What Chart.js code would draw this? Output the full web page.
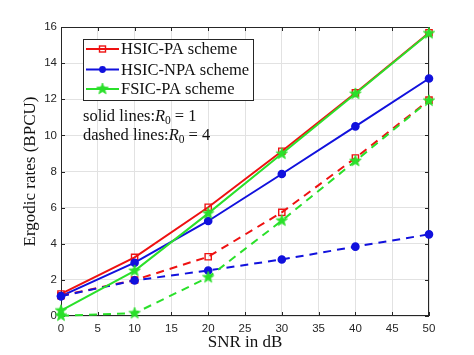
<!DOCTYPE html>
<html>
<head>
<meta charset="utf-8">
<script src="https://cdn.jsdelivr.net/npm/chart.js@4.4.1/dist/chart.umd.min.js"></script>
<style>
html,body{margin:0;padding:0;background:#fff;}
canvas{display:block;}
</style>
</head>
<body>
<canvas id="c" width="474" height="355"></canvas>
<script>
// ---- data ----
const snr = [0, 10, 20, 30, 40, 50];
const hsicPA_R1  = [1.22, 3.25, 6.02, 9.12, 12.35, 15.68];
const hsicNPA_R1 = [1.10, 2.95, 5.26, 7.86, 10.50, 13.15];
const fsicPA_R1  = [0.30, 2.50, 5.68, 8.98, 12.30, 15.65];
const hsicPA_R4  = [1.12, 1.99, 3.28, 5.74, 8.75, 11.95];
const hsicNPA_R4 = [1.10, 1.97, 2.52, 3.13, 3.84, 4.52];
const fsicPA_R4  = [0.02, 0.15, 2.14, 5.28, 8.58, 11.92];
const xTicks = [0, 5, 10, 15, 20, 25, 30, 35, 40, 45, 50];
const yTicks = [0, 2, 4, 6, 8, 10, 12, 14, 16];
const legendLabels = ['HSIC-PA scheme', 'HSIC-NPA scheme', 'FSIC-PA scheme'];

const RED = '#ee1111', BLUE = '#1111dd', GREEN = '#2ae02a', AX = '#262626', GRID = '#e2e2e2';

function starCanvas(r, color) {
  const s = Math.ceil(r * 2 + 4);
  const cv = document.createElement('canvas');
  cv.width = s; cv.height = s;
  const g = cv.getContext('2d');
  g.beginPath();
  for (let i = 0; i < 10; i++) {
    const rr = i % 2 === 0 ? r : r * 0.42;
    const a = -Math.PI / 2 + i * Math.PI / 5;
    const px = s / 2 + rr * Math.cos(a), py = s / 2 + rr * Math.sin(a);
    i === 0 ? g.moveTo(px, py) : g.lineTo(px, py);
  }
  g.closePath();
  g.fillStyle = color; g.fill();
  g.lineWidth = 0.8; g.strokeStyle = color; g.stroke();
  return cv;
}
const star = starCanvas(6, GREEN);

const pts = arr => arr.map((v, i) => ({x: snr[i], y: v}));
const DASH = [8, 6];

function ds(label, data, color, style, dashed, order) {
  return {
    label, data: pts(data), borderColor: color, borderWidth: 2, order,
    borderDash: dashed ? DASH : [], pointStyle: style, clip: false,
    pointRadius: style === 'rect' ? 4.4 : 3.6,
    pointBorderColor: color, pointBorderWidth: 1.4,
    pointBackgroundColor: style === 'rect' ? 'rgba(0,0,0,0)' : color,
    tension: 0, fill: false
  };
}

const frameLegend = {
  id: 'frameLegend',
  beforeDatasetsDraw(chart) {
    const {ctx, chartArea: a, scales: {x, y}} = chart;
    ctx.save();
    ctx.strokeStyle = AX; ctx.lineWidth = 1;
    ctx.strokeRect(a.left + 0.5, a.top + 0.5, a.right - a.left - 1, a.bottom - a.top - 1);
    ctx.beginPath();
    xTicks.forEach(t => {
      const px = Math.round(x.getPixelForValue(t)) + 0.5;
      ctx.moveTo(px, a.bottom); ctx.lineTo(px, a.bottom - 4);
      ctx.moveTo(px, a.top); ctx.lineTo(px, a.top + 4);
    });
    yTicks.forEach(t => {
      const py = Math.round(y.getPixelForValue(t)) + 0.5;
      ctx.moveTo(a.left, py); ctx.lineTo(a.left + 4, py);
      ctx.moveTo(a.right, py); ctx.lineTo(a.right - 4, py);
    });
    ctx.stroke();
    ctx.restore();
  },
  afterDatasetsDraw(chart) {
    const {ctx} = chart;
    ctx.save();
    const bx = 83, by = 39, bw = 170, bh = 61;
    ctx.fillStyle = '#fff';
    ctx.fillRect(bx, by, bw, bh);
    ctx.strokeStyle = AX; ctx.lineWidth = 1;
    ctx.strokeRect(bx + 0.5, by + 0.5, bw, bh);
    const cols = [RED, BLUE, GREEN];
    const ys = [49, 69.5, 89];
    ctx.font = '16.5px "Liberation Serif", "Times New Roman", serif';
    ctx.textBaseline = 'middle';
    legendLabels.forEach((lab, i) => {
      const yy = ys[i];
      ctx.strokeStyle = cols[i]; ctx.lineWidth = 2;
      ctx.beginPath(); ctx.moveTo(86, yy); ctx.lineTo(119, yy); ctx.stroke();
      if (i === 0) {
        ctx.lineWidth = 1.4;
        ctx.strokeRect(102.5 - 3, yy - 3, 6, 6);
      } else if (i === 1) {
        ctx.fillStyle = BLUE;
        ctx.beginPath(); ctx.arc(102.5, yy, 3.4, 0, Math.PI * 2); ctx.fill();
      } else {
        ctx.drawImage(star, 102.5 - star.width / 2, yy - star.height / 2);
      }
      ctx.fillStyle = '#111';
      ctx.fillText(lab, 121, yy + 1);
    });
    function rline(prefix, val, x0, yy) {
      ctx.font = '16.5px "Liberation Serif", "Times New Roman", serif';
      ctx.fillStyle = '#111';
      ctx.fillText(prefix, x0, yy);
      let cx = x0 + ctx.measureText(prefix).width;
      ctx.font = 'italic 16.5px "Liberation Serif", "Times New Roman", serif';
      ctx.fillText('R', cx, yy);
      cx += ctx.measureText('R').width;
      ctx.font = '11.5px "Liberation Serif", "Times New Roman", serif';
      ctx.fillText('0', cx, yy + 4);
      cx += ctx.measureText('0').width + 4;
      ctx.font = '16.5px "Liberation Serif", "Times New Roman", serif';
      ctx.fillText('= ' + val, cx, yy);
    }
    rline('solid lines:', '1', 83, 117);
    rline('dashed lines:', '4', 83, 136);
    ctx.restore();
  }
};

new Chart(document.getElementById('c'), {
  type: 'line',
  data: {
    datasets: [
      ds('HSIC-PA R0=1', hsicPA_R1, RED, 'rect', false, 5),
      ds('HSIC-NPA R0=1', hsicNPA_R1, BLUE, 'circle', false, 4),
      ds('FSIC-PA R0=1', fsicPA_R1, GREEN, star, false, 0),
      ds('HSIC-PA R0=4', hsicPA_R4, RED, 'rect', true, 3),
      ds('HSIC-NPA R0=4', hsicNPA_R4, BLUE, 'circle', true, 2),
      ds('FSIC-PA R0=4', fsicPA_R4, GREEN, star, true, 1)
    ]
  },
  options: {
    responsive: false,
    animation: false,
    devicePixelRatio: 1,
    layout: {padding: {left: 10, right: 45, top: 27, bottom: 0}},
    plugins: {legend: {display: false}, tooltip: {enabled: false}},
    scales: {
      x: {
        type: 'linear', min: 0, max: 50,
        afterFit: s => { s.height = 39; },
        afterBuildTicks: s => { s.ticks = xTicks.map(v => ({value: v})); },
        grid: {color: GRID, drawTicks: false, lineWidth: 1},
        border: {display: false},
        ticks: {padding: 6, color: AX, font: {family: '"Liberation Sans", Arial, sans-serif', size: 11.5}, maxRotation: 0},
        title: {display: true, text: 'SNR in dB', color: '#111',
          font: {family: '"Liberation Serif", "Times New Roman", serif', size: 17, lineHeight: 1.2},
          padding: {top: 0, bottom: 2}}
      },
      y: {
        type: 'linear', min: 0, max: 16,
        afterFit: s => { s.width = 51; },
        afterBuildTicks: s => { s.ticks = yTicks.map(v => ({value: v})); },
        grid: {color: GRID, drawTicks: false, lineWidth: 1},
        border: {display: false},
        ticks: {padding: 4, color: AX, font: {family: '"Liberation Sans", Arial, sans-serif', size: 11.5}},
        title: {display: true, text: 'Ergodic rates (BPCU)', color: '#111',
          font: {family: '"Liberation Serif", "Times New Roman", serif', size: 17, lineHeight: 1.2},
          padding: {top: 10, bottom: 0}}
      }
    }
  },
  plugins: [frameLegend]
});
</script>
</body>
</html>
